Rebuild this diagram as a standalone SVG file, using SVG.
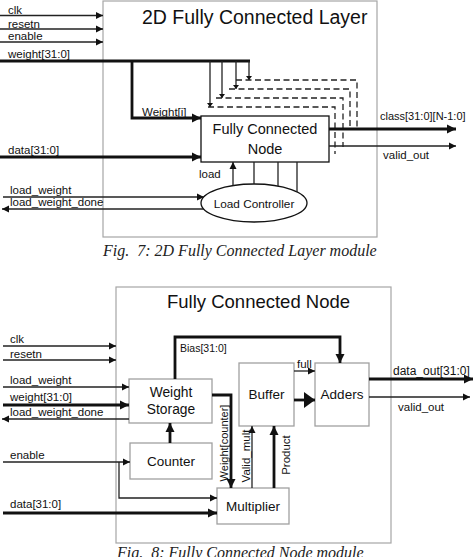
<svg xmlns="http://www.w3.org/2000/svg" width="474" height="557" viewBox="0 0 474 557">
<style>
 .frame{fill:#fff;stroke:#a6a6a6;stroke-width:1.2}
 .box{fill:#fff;stroke:#a0a0a0;stroke-width:1.3}
 .blk{fill:#fff;stroke:#111;stroke-width:1.3}
 .t{font-family:"Liberation Sans",Arial,sans-serif;fill:#111}
 .lbl{font-size:11.5px}
 .thin{fill:none;stroke:#222;stroke-width:1.3}
 .thick{fill:none;stroke:#111;stroke-width:2.8}
 .dash{fill:none;stroke:#222;stroke-width:1.3;stroke-dasharray:6 3.5}
 .cap{font-family:"Liberation Serif","Times New Roman",serif;font-style:italic;font-size:16px;fill:#222}
</style>
<defs>
 <marker id="a" markerUnits="userSpaceOnUse" markerWidth="8" markerHeight="8" refX="7" refY="4" orient="auto"><path d="M0,0.5 L7,4 L0,7.5 z" fill="#111"/></marker>
 <marker id="ab" markerUnits="userSpaceOnUse" markerWidth="10" markerHeight="10" refX="9" refY="5" orient="auto"><path d="M0,0.5 L9,5 L0,9.5 z" fill="#111"/></marker>
 <marker id="abig" markerUnits="userSpaceOnUse" markerWidth="12" markerHeight="16" refX="11" refY="8" orient="auto"><path d="M0,0 L11,8 L0,16 z" fill="#111"/></marker>
 <marker id="tk" markerUnits="userSpaceOnUse" markerWidth="6" markerHeight="6" refX="4" refY="3" orient="auto"><path d="M0,0 L4,3 L0,6 z" fill="#111"/></marker>
</defs>
<rect width="474" height="557" fill="#fff"/>

<!-- Figure 7 -->
<g id="layer2d">
 <rect class="frame" x="103" y="1" width="274" height="236"/>
 <text class="t" x="142" y="24" font-size="19.5">2D Fully Connected Layer</text>
</g>
<g id="node-copies">
 <path class="dash" d="M236,80 H357 V130"/>
 <path class="dash" d="M229,89 H350 V130"/>
 <path class="dash" d="M216,98 H343 V147"/>
 <path class="dash" d="M208,107 H335 V154"/>
</g>
<g id="fc-node">
 <rect class="blk" x="201" y="116" width="128" height="46"/>
 <text class="t" x="265" y="134" font-size="14.5" text-anchor="middle">Fully Connected</text>
 <text class="t" x="265" y="154" font-size="14.5" text-anchor="middle">Node</text>
</g>
<g id="load-controller">
 <ellipse class="blk" cx="254" cy="203" rx="53" ry="19"/>
 <text class="t" x="254" y="207.5" font-size="11.8" text-anchor="middle">Load Controller</text>
</g>

<g id="connectors7">
 <path class="thin" d="M0,15.5 H103" marker-end="url(#a)"/>
 <path class="thin" d="M0,29 H103" marker-end="url(#a)"/>
 <path class="thin" d="M0,42 H103" marker-end="url(#a)"/>
 <path class="thick" d="M0,61 H250" stroke-width="3"/>
 <path class="thick" d="M132,61 V118 H201" marker-end="url(#ab)"/>
 <path class="thin" d="M210,61 V107" marker-end="url(#tk)"/>
 <path class="thin" d="M222,61 V98" marker-end="url(#tk)"/>
 <path class="thin" d="M236,61 V89" marker-end="url(#tk)"/>
 <path class="thin" d="M249,61 V80" marker-end="url(#tk)"/>
 <path class="thick" d="M0,157 H201" marker-end="url(#ab)"/>
 <path class="thick" d="M329,129 H456" marker-end="url(#ab)"/>
 <path class="thin" d="M329,146 H456" marker-end="url(#a)"/>
 <path class="thin" d="M233,185.5 V162" marker-end="url(#a)"/>
 <path class="thin" d="M254,184 V162"/>
 <path class="thin" d="M278,186 V162"/>
 <path class="thin" d="M297,192 V162"/>
 <path class="thin" d="M3,197 H204" marker-end="url(#a)"/>
 <path class="thin" d="M204,209 H2" marker-end="url(#a)"/>
</g>
<g id="labels7" class="t lbl">
 <text x="8" y="14">clk</text>
 <text x="8" y="27.5">resetn</text>
 <text x="8" y="40">enable</text>
 <text x="8" y="58">weight[31:0]</text>
 <text x="142" y="116">Weight[i]</text>
 <text x="8" y="154">data[31:0]</text>
 <text x="380" y="120" font-size="11">class[31:0][N-1:0]</text>
 <text x="383" y="159">valid_out</text>
 <text x="199" y="178">load</text>
 <text x="10" y="194">load_weight</text>
 <text x="10" y="206">load_weight_done</text>
</g>
<text class="cap" x="103" y="256" xml:space="preserve">Fig.  7: 2D Fully Connected Layer module</text>

<!-- Figure 8 -->
<g id="fc-node-module">
 <rect class="frame" x="116" y="287" width="275" height="256"/>
 <text class="t" x="167" y="308" font-size="18.5">Fully Connected Node</text>
</g>
<g id="weight-storage">
 <rect class="box" x="129" y="379" width="83" height="44"/>
 <text class="t" x="171" y="397" font-size="13.8" text-anchor="middle">Weight</text>
 <text class="t" x="171" y="414" font-size="13.8" text-anchor="middle">Storage</text>
</g>
<g id="counter">
 <rect class="box" x="130" y="443" width="82" height="36"/>
 <text class="t" x="171" y="466" font-size="13.5" text-anchor="middle">Counter</text>
</g>
<g id="multiplier">
 <rect class="box" x="217" y="488" width="72" height="36"/>
 <text class="t" x="253" y="511" font-size="13.5" text-anchor="middle">Multiplier</text>
</g>
<g id="buffer">
 <rect class="box" x="239" y="363" width="55" height="63"/>
 <text class="t" x="266.5" y="399" font-size="13.5" text-anchor="middle">Buffer</text>
</g>
<g id="adders">
 <rect class="box" x="315" y="363" width="54" height="63"/>
 <text class="t" x="342" y="399" font-size="13.5" text-anchor="middle">Adders</text>
</g>

<g id="connectors8">
 <path class="thin" d="M3,346 H116" marker-end="url(#a)"/>
 <path class="thin" d="M3,360 H116" marker-end="url(#a)"/>
 <path class="thin" d="M3,387 H129" marker-end="url(#a)"/>
 <path class="thick" d="M3,405 H129" marker-end="url(#ab)"/>
 <path class="thin" d="M129,419 H2" marker-end="url(#a)"/>
 <path class="thin" d="M3,462 H130" marker-end="url(#a)"/>
 <path class="thin" d="M119,462 V498 H217" marker-end="url(#a)"/>
 <path class="thick" d="M3,513 H217" marker-end="url(#ab)"/>
 <path class="thick" d="M170,443 V423" marker-end="url(#ab)"/>
 <path class="thick" d="M175,379 V337 H340 V363" marker-end="url(#ab)"/>
 <path class="thick" d="M212,395 H231 V488" marker-end="url(#ab)"/>
 <path class="thin" d="M252,488 V426" marker-end="url(#a)"/>
 <path class="thick" d="M274,488 V426" marker-end="url(#ab)"/>
 <path class="thin" d="M294,371 H315" marker-end="url(#a)"/>
 <path class="thick" d="M294,400 H315" stroke-width="5" marker-end="url(#abig)"/>
 <path class="thick" d="M369,379 H473" marker-end="url(#ab)"/>
 <path class="thin" d="M369,397 H470" marker-end="url(#a)"/>
</g>
<g id="labels8" class="t lbl">
 <text x="10" y="343">clk</text>
 <text x="10" y="357.5">resetn</text>
 <text x="10" y="384">load_weight</text>
 <text x="10" y="401">weight[31:0]</text>
 <text x="10" y="416">load_weight_done</text>
 <text x="10" y="459">enable</text>
 <text x="10" y="508">data[31:0]</text>
 <text x="180" y="352" font-size="10.5">Bias[31:0]</text>
 <text x="297" y="368">full</text>
 <text x="393" y="375" font-size="12">data_out[31:0]</text>
 <text x="398" y="411">valid_out</text>
 <text transform="translate(228,443) rotate(-90)" text-anchor="middle" font-size="11">Weight[counter]</text>
 <text transform="translate(250,456) rotate(-90)" text-anchor="middle">Valid_mult</text>
 <text transform="translate(290,455) rotate(-90)" text-anchor="middle">Product</text>
</g>
<text class="cap" x="117" y="558" xml:space="preserve">Fig.  8: Fully Connected Node module</text>
</svg>
